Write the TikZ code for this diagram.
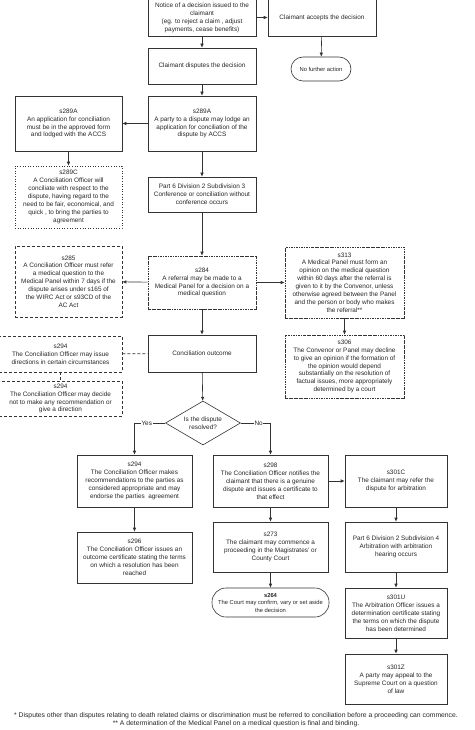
\documentclass[tikz,border=0pt]{standalone}
\usepackage{fontspec}
\setmainfont{Liberation Sans}
\usetikzlibrary{arrows.meta,shapes.geometric}

\begin{document}
\begin{tikzpicture}[x=1pt, y=-1pt,
		every node/.style={font=\fontsize{6.4}{7.9}\selectfont, text=black!85, align=center, inner sep=1pt},
		box/.style={draw=black!80, line width=0.6pt, rectangle, minimum width=#1},
		box/.default=108pt,
		dotbox/.style={box=#1, dotted},
		dotbox/.default=108pt,
		dashbox/.style={box=#1, dash pattern=on 3pt off 2pt},
		dashbox/.default=108pt,
		dashdotbox/.style={box=#1, dash pattern=on 2.5pt off 1pt on 0.6pt off 1pt},
		dashdotbox/.default=108pt,
		endbox/.style={draw=black!80, line width=0.6pt, rounded corners=#1},
		arr/.style={draw=black!80, line width=0.6pt, -{Latex[length=4pt,width=3.5pt]}},
		link/.style={draw=black!80, line width=0.6pt}]
		\useasboundingbox (0,0) rectangle (474,730);

		\node[box, minimum height=37pt] (notice) at (202,17.5) {Notice of a decision issued to the\\claimant\\(eg. to reject a claim , adjust\\payments, cease benefits)};
		\node[box, minimum height=37pt] (accepts) at (322,17.5) {Claimant accepts the decision};
		\node[endbox=12pt, minimum width=60pt, minimum height=24pt, font=\fontsize{5.8}{7.5}\selectfont] (nofurther) at (321,69) {No further action};
		\node[box, minimum height=36pt] (disputes) at (202,66) {Claimant disputes the decision};

		\node[box, minimum height=55pt] (s289Ar) at (202,123.5) {s289A\\A party to a dispute may lodge an\\application for conciliation of the\\dispute by ACCS};
		\node[box=107pt, minimum height=55pt] (s289Al) at (68.5,123.5) {s289A\\An application for conciliation\\must be in the approved form\\and lodged with the ACCS};
		\node[dotbox=107pt, minimum height=62pt] (s289C) at (68.5,197) {s289C\\A Conciliation Officer will\\conciliate with respect to the\\dispute, having regard to the\\need to be fair, economical, and\\quick , to bring the parties to\\agreement};
		\node[box, minimum height=35pt] (part6a) at (202,194.5) {Part 6 Division 2 Subdivision 3\\Conference or conciliation without\\conference occurs};

		\node[dashbox=107pt, minimum height=71pt] (s285) at (68.5,281.5) {s285\\A Conciliation Officer must refer\\a medical question to the\\Medical Panel within 7 days if the\\dispute arises under s165 of\\the WIRC Act or s93CD of the\\AC Act};
		\node[dashdotbox, minimum height=53pt] (s284) at (202,282.5) {s284\\A referral may be made to a\\Medical Panel for a decision on a\\medical question};
		\node[dashdotbox=119pt, minimum height=71pt] (s313) at (344.5,282.5) {s313\\A Medical Panel must form an\\opinion on the medical question\\within 60 days after the referral is\\given to it by the Convenor, unless\\otherwise agreed between the Panel\\and the person or body who makes\\the referral**};
		\node[dashdotbox=119pt, minimum height=63pt] (s306) at (344.5,366.5) {s306\\The Convenor or Panel may decline\\to give an opinion if the formation of\\the opinion would depend\\substantially on the resolution of\\factual issues, more appropriately\\determined by a court};

		\node[box, minimum height=37pt] (outcome) at (202,353.5) {Conciliation outcome};
		\node[dashbox=123pt, minimum height=36pt] (s294a) at (60.5,354) {s294\\The Conciliation Officer may issue\\directions in certain circumstances};
		\node[dashbox=123pt, minimum height=35pt] (s294b) at (60.5,398.5) {s294\\The Conciliation Officer may decide\\not to make any recommendation or\\give a direction};

		\node[diamond, draw=black!80, line width=0.6pt, aspect=1.7, minimum width=75pt, minimum height=44pt, inner sep=0pt] (resolved) at (203,423) {Is the dispute\\resolved?};

		\node[box=115pt, minimum height=52pt] (s294c) at (134.5,481) {s294\\The Conciliation Officer makes\\recommendations to the parties as\\considered appropriate and may\\endorse the parties\ \ agreement};
		\node[box=115pt, minimum height=52pt] (s298) at (270.5,481) {s298\\The Conciliation Officer notifies the\\claimant that there is a genuine\\dispute and issues a certificate to\\that effect};
		\node[box=102pt, minimum height=52pt] (s301C) at (396,481) {s301C\\The claimant may refer the\\dispute for arbitration};

		\node[box=115pt, minimum height=51pt] (s296) at (134.5,557.5) {s296\\The Conciliation Officer issues an\\outcome certificate stating the terms\\on which a resolution has been\\reached};
		\node[box=115pt, minimum height=50pt] (s273) at (270.5,547) {s273\\The claimant may commence a\\proceeding in the Magistrates' or\\County Court};
		\node[box=102pt, minimum height=50pt] (part6b) at (396,547) {Part 6 Division 2 Subdivision 4\\Arbitration with arbitration\\hearing occurs};
		\node[endbox=14pt, minimum width=117pt, minimum height=29pt, font=\fontsize{5.8}{7.5}\selectfont] (s264) at (270.5,602.5) {\textbf{s264}\\The Court may confirm, vary or set aside\\the decision};
		\node[box=102pt, minimum height=50pt] (s301U) at (396,613) {s301U\\The Arbitration Officer issues a\\determination certificate stating\\the terms on which the dispute\\has been determined};
		\node[box=102pt, minimum height=50pt] (s301Z) at (396,679) {s301Z\\A party may appeal to the\\Supreme Court on a question\\of law};

		\node[font=\fontsize{6.8}{8}\selectfont] (notes) at (236,720) {* Disputes other than disputes relating to death related claims or discrimination must be referred to conciliation before a proceeding can commence.\\** A determination of the Medical Panel on a medical question is final and binding.};

		\draw[arr] (notice) -- (disputes);
		\draw[arr] (notice) -- (accepts);
		\draw[arr] (accepts) -- (nofurther);
		\draw[arr] (disputes) -- (s289Ar);
		\draw[arr] (s289Ar) -- (s289Al);
		\draw[arr] (s289Al) -- (s289C);
		\draw[arr] (s289Ar) -- (part6a);
		\draw[arr] (part6a) -- (s284);
		\draw[arr] (s284) -- (s285);
		\draw[arr] (s284) -- (s313);
		\draw[arr] (s313) -- (s306);
		\draw[arr] (s284) -- (outcome);
		\draw[link, dash pattern=on 3pt off 2pt] (s294a) -- (outcome);
		\draw[link, dash pattern=on 3pt off 2pt] (s294a) -- (s294b);
		\draw[arr] (outcome) -- (resolved);
		\draw[arr] (resolved.west) -| node[pos=0.3, fill=white, inner sep=0.5pt] {Yes} (s294c.north);
		\draw[arr] (resolved.east) -| node[pos=0.3, fill=white, inner sep=0.5pt] {No} (s298.north);
		\draw[arr] (s298) -- (s301C);
		\draw[arr] (s294c) -- (s296);
		\draw[arr] (s298) -- (s273);
		\draw[arr] (s301C) -- (part6b);
		\draw[arr] (s273) -- (s264);
		\draw[arr] (part6b) -- (s301U);
		\draw[arr] (s301U) -- (s301Z);
	\end{tikzpicture}
\end{document}
